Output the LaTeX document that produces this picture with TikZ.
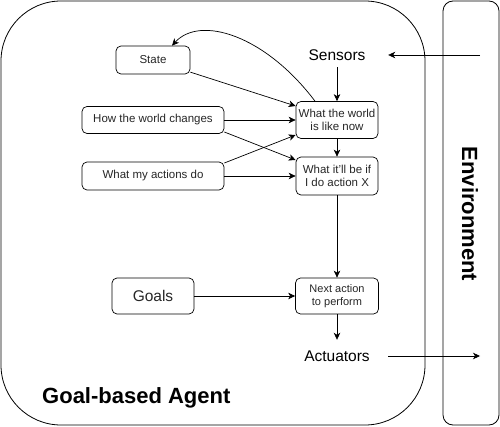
\documentclass[tikz,border=0pt]{standalone}
\usepackage{fontspec}
\setmainfont{Liberation Sans}
\usetikzlibrary{arrows.meta,calc}
\begin{document}
\begin{tikzpicture}[x=1pt,y=-1pt,
  box/.style={draw, rounded corners=5pt, line width=0.7pt, inner sep=0pt, align=center,
    font=\fontsize{11.5}{13.5}\selectfont, text=black!85},
  lbl/.style={inner sep=0pt, font=\fontsize{15.5}{18}\selectfont, minimum width=102pt},
  arr/.style={-{Stealth[length=7pt,width=6.5pt,inset=2pt]}, line width=0.7pt},
  frame/.style={draw, line width=0.8pt},
  title/.style={inner sep=0pt, font=\bfseries\fontsize{22}{26}\selectfont}
]
\useasboundingbox (0,0) rectangle (500,427);
\draw[frame, rounded corners=60pt] (1,1) rectangle (425,425);
\draw[frame, rounded corners=10pt] (443,1) rectangle (499,425);

\node[title, rotate=-90] (env) at (470,214) {Environment};
\node[title, anchor=west] (agent) at (42,398) {Goal-based Agent};

\node[box, minimum width=74pt, minimum height=28pt] (state) at (153,60) {State};
\node[box, minimum width=142pt, minimum height=27pt] (hwc) at (153,120) {How the world changes};
\node[box, minimum width=142pt, minimum height=28pt] (wmad) at (153,176) {What my actions do};
\node[box, minimum width=82pt, minimum height=37pt] (wtw) at (337,120) {What the world\\is like now};
\node[box, minimum width=82pt, minimum height=38pt] (wibi) at (337,176) {What it'll be if\\I do action X};
\node[box, minimum width=82pt, minimum height=36pt, font=\fontsize{15.5}{18}\selectfont] (goals) at (153,296) {Goals};
\node[box, minimum width=83pt, minimum height=36pt, font=\fontsize{11}{13.3}\selectfont] (next) at (337,296) {Next action\\to perform};

\node[lbl, minimum height=24pt] (sensors) at (337,55) {Sensors};
\node[lbl, minimum height=32pt] (act) at (337,356) {Actuators};

\coordinate (sin) at (480,55);
\coordinate (sout) at (480,356);

\draw[arr] (sin) -- (sensors.east);
\draw[arr] (act.east) -- (sout);
\draw[arr] (sensors.south) -- (wtw.north);
\draw[arr] (wtw.south) -- (wibi.north);
\draw[arr] (wibi.south) -- (next.north);
\draw[arr] (next.south) -- (act.north);
\draw[arr] (goals.east) -- (next.west);

\draw[arr] (state.-18) -- ($(wtw.west)+(0,-14)$);
\draw[arr] (hwc.east) -- (wtw.west);
\draw[arr] ($(hwc.east)+(0,12)$) -- ($(wibi.west)+(0,-16)$);
\draw[arr] ($(wmad.east)+(0,-13)$) -- ($(wtw.west)+(0,15)$);
\draw[arr] (wmad.east) -- (wibi.west);

\draw[arr] ($(wtw.north)+(-22,0)$) .. controls (265,35) and (200,15) .. ($(state.north)+(19,0)$);
\end{tikzpicture}
\end{document}
